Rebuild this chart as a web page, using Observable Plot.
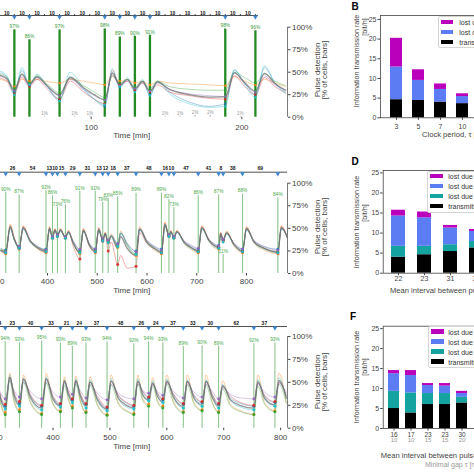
<!DOCTYPE html>
<html><head><meta charset="utf-8">
<script src="https://cdn.jsdelivr.net/npm/d3@7"></script>
<script src="https://cdn.jsdelivr.net/npm/@observablehq/plot@0.6"></script>
<style>
html,body{margin:0;padding:0;width:474px;height:474px;overflow:hidden;background:#fff;}
#root{position:relative;width:474px;height:474px;overflow:hidden;font-family:"Liberation Sans",Arial,sans-serif;}
</style></head>
<body><div id="root"></div>
<script>
// ================= DATA =================
// Panel A (clock-based pulses, period 10 min)
const tA = [38,44,49,54,59, 64,70,79,86,95, 102,109,114,119,124, 129,134,139,144,152, 165,178,189,195,202, 209,215,222,229];
const aS1 = [50,45,28,52,35, 46,36,20,45,30, 20,12,50,33,42, 30,40,25,40,28, 17,12,15,52,38, 25,55,38,28];
const aS2 = [42,40,34,42,40, 42,40,38,42,40, 38,36,45,40,42, 38,40,36,40,38, 37,36,35,45,40, 36,42,38,34];
const aS3 = [48,44,32,48,38, 46,38,27,44,35, 28,22,46,38,42, 34,40,32,40,34, 31,30,30,50,44, 38,48,40,35];
const aS4 = [44,40,26,44,34, 42,33,20,40,28, 20,15,52,36,40, 30,38,28,36,28, 24,21,20,46,34, 25,44,34,27];
const aS5 = [46,42,30,46,36, 44,35,24,42,31, 24,19,47,35,40, 32,38,29,38,31, 26,24,23,49,37, 28,46,36,30];
const aS6 = [52,46,25,55,36, 48,36,18,50,32, 20,14,54,34,44, 28,42,24,40,26, 15,11,12,53,36, 22,57,38,26];
const pulsesA = [49,59,79,109,119,129,139,189,209];
const pctA = [97,86,97,98,89,90,91,98,96];
const clockTicksA = [39,49,59,69,79,89,99,109,119,129,139,149,159,169,179,189,199,209];
const falseTimesA = [69,89,99,149,159,169,179,199];
const falsePctA = [1,1,1,1,1,2,2,1];
const xTicksA = [100,200];

// Panel C (irregular pulses)
const tC = [306,316,325,333,343,351,365,380,
            397,404,410,415,420,426,436,442,452,
            465,472,484,
            496,503,511,516,522,528,
            541,547,560,
            578,585,600,615,
            629,636,644,648,654,660,675,690,
            703,710,725,
            744,748,753,760,775,
            792,800,815,835,
            863,870,884];
const cS1 = [28,26,50,38,30,49,37,30, 27,48,41,47,43,47,41,45,35, 26,46,33, 27,47,38,43,36,41, 33,44,33, 25,48,36,30, 27,52,43,45,41,45,35,30, 27,49,37, 31,43,38,44,33, 27,48,36,30, 27,49,38];
const cS2 = [24,22,55,40,27,53,36,27, 23,52,39,50,41,50,39,48,33, 22,50,31, 23,51,36,46,34,44, 29,47,31, 20,52,34,26, 22,57,41,48,39,48,33,26, 23,53,35, 27,46,36,47,30, 23,52,34,26, 22,53,36];
const cS3 = [27,25,51,37,29,50,35,29, 26,49,40,47,42,47,40,45,33, 24,47,32, 25,48,37,44,35,42, 31,45,32, 22,49,35,28, 24,54,42,46,40,46,34,28, 25,50,36, 29,44,37,45,32, 25,49,35,28, 24,50,37];
const cS4 = [25,23,53,39,28,52,37,28, 24,51,40,49,42,49,40,47,30, 16,49,30, 24,50,36,45,25,35, 10,20,6, 8,45,33,27, 23,56,42,47,40,47,35,28, 24,52,37, 29,45,37,46,32, 24,51,35,28, 23,52,36];
const cS5 = [26,24,50,39,30,50,37,30, 26,49,41,48,43,48,41,46,36, 27,47,34, 27,48,39,44,37,43, 33,45,34, 24,50,37,30, 26,53,43,46,41,46,36,31, 28,50,38, 31,44,38,44,34, 27,49,37,30, 26,50,39];
const cS6 = [25,23,52,37,28,51,35,28, 24,50,39,48,41,48,39,46,33, 23,48,31, 24,49,36,44,34,42, 30,45,31, 21,50,34,27, 23,55,41,46,39,46,33,27, 24,51,35, 28,42,35,44,31, 24,50,34,27, 23,51,36];
const pulsesC = [316,343,397,410,420,436,465,496,511,522,541,578,629,644,654,703,744,753,792,863];
const pctC = [90,87,92,86,73,76,91,91,79,83,85,89,89,82,73,86,87,21,88,84];
const intervalsC = [26,54,13,10,15,29,31,13,12,18,37,48,16,10,47,41,8,38,69];
const xTicksC = [300,400,500,600,700,800];

// Panel E (pulses with minimal gap)
const tE = [292,300,308, 316,324,331, 341,348,360, 380,388,400, 413,420,427, 434,440,448, 458,465,478, 495,502,515,530, 542,549,558, 568,575,584, 593,600,612, 629,636,648, 662,669,680, 691,698,712,730, 753,760,772, 790,797,810];
const eS1 = [25,53,33, 24,55,39, 27,53,36, 24,53,34, 26,51,39, 31,51,37, 26,50,33, 22,51,35,27, 24,51,39, 33,49,37, 31,51,36, 26,51,35, 28,51,36, 26,46,33,27, 24,50,35, 28,51,35];
const eS2 = [18,60,28, 17,60,33, 20,58,30, 16,60,27, 19,56,33, 24,57,30, 18,56,26, 15,58,28,19, 16,58,32, 26,55,30, 24,58,29, 18,58,28, 20,58,29, 18,52,26,19, 15,58,28, 19,60,28];
const eS3 = [17,50,26, 15,52,30, 18,50,28, 15,49,26, 18,47,31, 22,48,29, 17,47,25, 14,47,26,18, 15,48,30, 24,46,28, 22,48,27, 17,47,26, 19,47,27, 17,43,24,18, 15,46,26, 18,48,27];
const eS4 = [27,54,35, 26,56,40, 29,54,37, 25,54,35, 27,52,40, 32,52,38, 27,50,35, 23,51,36,28, 25,50,40, 34,48,38, 32,50,37, 27,50,36, 29,50,37, 27,45,35,28, 25,49,36, 29,50,36];
const eS5 = [33,50,38, 32,52,42, 34,50,40, 32,50,39, 34,49,42, 37,49,41, 33,48,38, 31,48,38,33, 32,48,41, 38,47,40, 36,49,40, 33,48,39, 34,48,40, 32,44,37,33, 32,48,39, 34,49,39];
const eS6 = [22,57,31, 21,58,36, 24,55,33, 20,56,31, 23,53,36, 28,54,34, 22,53,30, 19,54,32,23, 21,54,35, 30,52,34, 28,54,33, 22,53,32, 24,53,33, 22,48,30,23, 20,53,32, 24,55,32];
const pulsesE = [292,316,341,380,413,434,458,495,542,568,593,629,662,691,753,790];
const pctE = [93,94,93,95,93,89,93,94,92,94,93,89,90,89,92,93];
const intervalsE = [24,23,40,33,21,24,37,48,26,24,37,33,30,62,37];
const xTicksE = [300,400,500,600,700,800];

// Panel B
const clockPeriods = ["3","5","7","10"];
const bTransmitted = [4.6,4.4,4.0,3.6];
const bLostBlue = [8.3,5.1,3.2,1.8];
const bLostMagenta = [7.3,2.7,1.4,0.7];
// Panel D
const meanIntervalD = ["22","23","31","37"];
const dTransmitted = [4.0,4.6,5.4,6.3];
const dLostTeal = [2.7,2.1,1.7,1.6];
const dLostBlue = [7.55,7.1,4.15,2.5];
const dLostMagenta = [1.45,1.45,0.65,0.5];
// Panel F
const meanIntervalF = ["16","17","23","23","30"];
const minGapF = ["10","10","15","15","20"];
const fTransmitted = [5.0,3.9,6.0,6.0,6.4];
const fLostTeal = [4.3,5.0,2.75,2.75,1.4];
const fLostBlue = [4.4,4.35,2.0,1.85,0.95];
const fLostMagenta = [0.8,1.25,0.5,0.65,0.55];

const legendLabels = {
  lostMagenta: "lost due to false detections",
  lostBlue: "lost due to missed pulses",
  lostTeal: "lost due to timing inaccuracy",
  transmitted: "transmitted"
};

// ================= DRAWING =================
const FONT = "Liberation Sans, Arial, sans-serif";
const STYLE = `font-family:${FONT};color:#444;background:transparent;overflow:visible;max-width:none;`;
const seriesNames = ["s1","s2","s3","s4","s5","s6"];
const seriesColors = ["#1f77b4","#ff7f0e","#2ca02c","#d62728","#9467bd","#17becf"];
const root = document.getElementById("root");

function place(el, left, top) {
  const d = document.createElement("div");
  d.style.position = "absolute"; d.style.left = left + "px"; d.style.top = top + "px";
  d.appendChild(el); root.appendChild(d);
}
function txt(s, x, y, o = {}) {
  const d = document.createElement("div");
  d.textContent = s;
  const size = o.size ?? 8;
  Object.assign(d.style, {position: "absolute", left: x + "px", top: y + "px", fontSize: size + "px",
    color: o.color ?? "#444", fontWeight: o.weight ?? "normal", whiteSpace: "nowrap", lineHeight: "1", fontFamily: FONT});
  const tx = (o.anchor ?? "middle") === "middle" ? "-50%" : (o.anchor === "end" ? "-100%" : "0");
  d.style.transform = `translate(${tx},-50%)` + (o.rotate ? " rotate(-90deg)" : "");
  root.appendChild(d);
}
const triDown = {draw(ctx, size) {
  const s = Math.sqrt(size / 0.433), h = s * 0.866;
  ctx.moveTo(-s / 2, -h / 3); ctx.lineTo(s / 2, -h / 3); ctx.lineTo(0, 2 * h / 3); ctx.closePath();
}};

function timePanel(o) {
  const rows = [];
  o.series.forEach((vals, si) => vals.forEach((v, i) => rows.push({t: o.times[i], v, s: seriesNames[si]})));
  const means = o.times.map((t, i) => ({t, v: d3.mean(o.series, s => s[i])}));
  const inDom = t => t >= o.x0 && t <= o.x1;
  const dots = rows.filter(r => o.pulses.includes(r.t) && inDom(r.t));
  const pulseRows = o.pulses.map((t, i) => ({t, p: o.pct[i]})).filter(d => inDom(d.t));
  const height = o.mt + o.ph + 25;
  const marks = [
    Plot.line(rows, {x: "t", y: "v", z: "s", stroke: "s", curve: "monotone-x", strokeWidth: 0.9, strokeOpacity: 0.42, clip: true}),
    Plot.line(means, {x: "t", y: "v", curve: "monotone-x", stroke: "#6a6a6a", strokeWidth: 1.3, strokeOpacity: 0.7, clip: true}),
  ];
  if (o.falseRows) {
    marks.push(Plot.ruleX(o.falseRows, {x: "t", y1: 0, y2: "p", stroke: "#999", strokeWidth: 0.8}));
    marks.push(Plot.text(o.falseRows, {x: "t", y: "p", text: d => d.p + "%", dy: -3.2, fill: "#9a9a9a", fontSize: 4.6}));
  }
  marks.push(
    Plot.ruleX(pulseRows, {x: "t", y1: 0, y2: "p", stroke: o.barColor, strokeWidth: o.barWidth}),
    Plot.dot(dots, {x: "t", y: "v", fill: "s", r: o.dotR, fillOpacity: 0.9, clip: true}),
    Plot.text(pulseRows, {x: "t", y: "p", text: d => d.p + "%", dy: -3.2, fill: o.pctColor, fontSize: 4.8}),
    Plot.ruleY([o.lineY], {x1: o.lineStart, x2: o.lineEnd, stroke: "#222", strokeWidth: 0.8}),
  );
  if (o.tickTimes) marks.push(Plot.ruleX(o.tickTimes, {x: d => d, y1: o.lineY - 0.9, y2: o.lineY + 1.1, stroke: "#222", strokeWidth: 0.8}));
  marks.push(
    Plot.dot(pulseRows, {x: "t", y: o.triY, symbol: triDown, r: 1.8, fill: "#3f86d1"}),
    Plot.text(o.labelRows, {x: "t", y: o.labY, text: "lab", fontSize: 5, fontWeight: "bold", fill: "#111"}),
    Plot.ruleX([o.x1], {y1: 0, y2: 100, stroke: "#555", strokeWidth: 0.8}),
    Plot.axisY({anchor: "right", ticks: [0, 25, 50, 75, 100], tickFormat: d => d + "%", tickSize: 2.5, tickPadding: 2, fontSize: 8, label: null}),
    Plot.axisX({ticks: o.xticks, tickSize: 2.5, tickPadding: o.xpad, fontSize: 8, label: null}),
  );
  const svg = Plot.plot({
    width: 20 + 287 + 30, height, marginLeft: 20, marginRight: 30, marginTop: o.mt, marginBottom: 25,
    x: {domain: [o.x0, o.x1], axis: null},
    y: {domain: [0, 100], axis: null},
    color: {domain: seriesNames, range: seriesColors},
    style: STYLE,
    marks
  });
  place(svg, -20, o.top);
}

// Panel A
const labelRowsA = clockTicksA.slice(1).map((t, i) => ({t: (t + clockTicksA[i]) / 2, lab: String(t - clockTicksA[i])}));
timePanel({
  top: 0, mt: 26.7, ph: 90, x0: 39.8, x1: 230.3, xticks: xTicksA, xpad: 4.7,
  times: tA, series: [aS1, aS2, aS3, aS4, aS5, aS6], dotR: 1.2,
  pulses: pulsesA, pct: pctA, barColor: "#238b23", barWidth: 2.3, pctColor: "#3a9a3a",
  lineY: 113, triY: 111.4, labY: 115.6, lineStart: 39.8, lineEnd: 211,
  labelRows: labelRowsA, tickTimes: clockTicksA,
  falseRows: falseTimesA.map((t, i) => ({t, p: falsePctA[i]}))
});
// Panel C
timePanel({
  top: 155, mt: 27.7, ph: 90.3, x0: 305.5, x1: 882.4, xticks: xTicksC, xpad: 2.7,
  times: tC, series: [cS1, cS2, cS3, cS4, cS5, cS6], dotR: 1.5,
  pulses: pulsesC, pct: pctC, barColor: "#8fc58f", barWidth: 1.1, pctColor: "#4aa84a",
  lineY: 112.2, triY: 110.6, labY: 116.6, lineStart: 305.5, lineEnd: 882.4,
  labelRows: intervalsC.map((v, i) => ({t: (pulsesC[i] + pulsesC[i + 1]) / 2, lab: String(v)}))
});
// Panel E
timePanel({
  top: 310, mt: 26, ph: 91.7, x0: 307.7, x1: 812.1, xticks: xTicksE, xpad: 3.7,
  times: tE, series: [eS1, eS2, eS3, eS4, eS5, eS6], dotR: 1.5,
  pulses: pulsesE, pct: pctE, barColor: "#8fc58f", barWidth: 1.1, pctColor: "#4aa84a",
  lineY: 110.9, triY: 109.4, labY: 114.2, lineStart: 307.7, lineEnd: 812.1,
  labelRows: intervalsE.map((v, i) => ({t: (pulsesE[i] + pulsesE[i + 1]) / 2, lab: String(v)}))
});

// Bar panels
const compNames = ["transmitted", "lostTeal", "lostBlue", "lostMagenta"];
const compColors = ["#000000", "#15a3a0", "#5b7cf2", "#bb00bb"];
function stackRows(cats, comps) {
  const rows = [];
  cats.forEach((c, i) => comps.forEach(([name, vals]) => rows.push({cat: c, comp: name, v: vals[i]})));
  return rows;
}
function barPanel(o) {
  const svg = Plot.plot({
    width: o.width, height: o.mt + o.ph + o.mb,
    marginLeft: o.ml, marginRight: 0, marginTop: o.mt, marginBottom: o.mb,
    x: {type: "band", domain: o.cats, paddingInner: o.pi, paddingOuter: o.po, align: o.align ?? 0.5, axis: null},
    y: {domain: [0, o.ymax], axis: null},
    color: {type: "ordinal", domain: compNames, range: compColors},
    style: STYLE,
    marks: [
      Plot.barY(o.rows, {x: "cat", y: "v", fill: "comp"}),
      Plot.frame({stroke: "#444", strokeWidth: 0.8}),
      Plot.axisY({ticks: [0, 5, 10, 15, 20, 25], tickSize: 2.5, tickPadding: 1.5, fontSize: 7, label: null}),
      Plot.axisX({tickSize: 2.5, tickPadding: o.xpad, fontSize: o.xfs ?? 7, label: null, tickFormat: o.fmt}),
      ...(o.extra || [])
    ]
  });
  place(svg, o.left, o.top);
}
barPanel({left: 340, top: 0, width: 138.1, ml: 40, mt: 15, ph: 102.3, mb: 30, ymax: 26,
  pi: 0.471, po: 0.396, xpad: 3.7, cats: clockPeriods,
  rows: stackRows(clockPeriods, [["transmitted", bTransmitted], ["lostBlue", bLostBlue], ["lostMagenta", bLostMagenta]])});
barPanel({left: 340, top: 155, width: 151.3, ml: 42.7, mt: 15, ph: 102.7, mb: 30, ymax: 25.6,
  pi: 0.475, po: 0.274, xpad: 0.6, cats: meanIntervalD,
  rows: stackRows(meanIntervalD, [["transmitted", dTransmitted], ["lostTeal", dLostTeal], ["lostBlue", dLostBlue], ["lostMagenta", dLostMagenta]])});
const idxF = meanIntervalF.map((_, i) => String(i));
barPanel({left: 340, top: 310, width: 150, ml: 42.7, mt: 15.7, ph: 102.3, mb: 40, ymax: 25.6,
  pi: 0.377, po: 0.728, align: 0.175, xpad: 1.2, xfs: 6.5, cats: idxF, fmt: i => meanIntervalF[+i],
  rows: stackRows(idxF, [["transmitted", fTransmitted], ["lostTeal", fLostTeal], ["lostBlue", fLostBlue], ["lostMagenta", fLostMagenta]]),
  extra: [Plot.text(idxF, {x: d => d, text: d => minGapF[+d], frameAnchor: "bottom", dy: 13.2, fill: "#9a9a9a", fontSize: 6})]});

// Legends
function legend(left, top, w, h, items, swLeft, swW, textLeft) {
  const box = document.createElement("div");
  Object.assign(box.style, {position: "absolute", left: left + "px", top: top + "px", width: w + "px", height: h + "px",
    border: "0.7px solid #d4d4d4", borderRadius: "2px", background: "rgba(255,255,255,0.9)"});
  root.appendChild(box);
  items.forEach(([comp, y]) => {
    const sw = document.createElement("div");
    Object.assign(sw.style, {position: "absolute", left: swLeft + "px", top: (y - 2.2) + "px", width: swW + "px", height: "4.4px",
      background: compColors[compNames.indexOf(comp)]});
    root.appendChild(sw);
    txt(legendLabels[comp], textLeft, y, {size: 7, anchor: "start", color: "#333"});
  });
}
legend(437.7, 16, 90, 30, [["lostMagenta", 22], ["lostBlue", 32], ["transmitted", 42]], 441, 12.3, 459.3);
legend(426.7, 170.5, 100, 40, [["lostMagenta", 176.3], ["lostBlue", 186], ["lostTeal", 196], ["transmitted", 205.8]], 430, 13.3, 448.3);
legend(427.7, 325.7, 100, 40, [["lostMagenta", 331.5], ["lostBlue", 341.5], ["lostTeal", 351.5], ["transmitted", 361.5]], 430.5, 13.3, 448.3);

// Axis titles and panel letters
txt("Time [min]", 131.7, 136);
txt("Time [min]", 131.7, 291);
txt("Time [min]", 131.7, 446.7);
[[70], [226.7], [381.8]].forEach(([cy]) => {
  txt("Pulse detection", 317.5, cy, {rotate: true});
  txt("[% of cells, bars]", 325.2, cy, {rotate: true});
});
txt("Information transmission rate", 357, 61, {rotate: true, size: 7.2});
txt("[bit/h]", 365, 27, {rotate: true, size: 7.2});
txt("Information transmission rate", 357, 222, {rotate: true, size: 7.2});
txt("[bit/h]", 364.5, 213, {rotate: true, size: 7.2});
txt("Information transmission rate", 357, 376.5, {rotate: true, size: 7.2});
txt("[bit/h]", 364.5, 367, {rotate: true, size: 7.2});
txt("Clock period, τ [min]", 422, 135, {anchor: "start", size: 7.6});
txt("Mean interval between pulses [min]", 390, 290.7, {anchor: "start", size: 7.6});
txt("Mean interval between pulses [min]", 380.7, 455.7, {anchor: "start", size: 7.6});
txt("Minimal gap τ [min]", 425, 464, {anchor: "start", size: 7, color: "#9a9a9a"});
txt("B", 355, 7, {size: 10, weight: "bold", color: "#000"});
txt("D", 355, 162, {size: 10, weight: "bold", color: "#000"});
txt("F", 353, 317, {size: 10, weight: "bold", color: "#000"});
</script>
</body></html>
